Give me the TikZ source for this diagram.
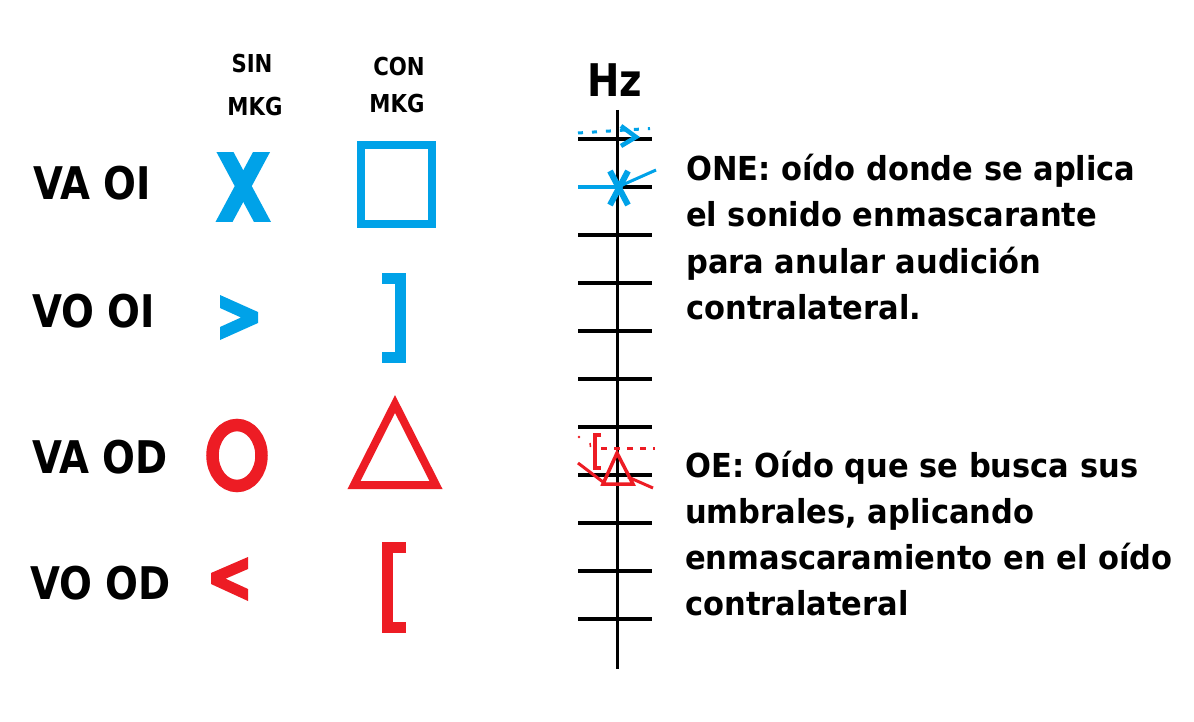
\documentclass[tikz,border=0pt]{standalone}
\usepackage{fontspec}
\newfontfamily\txtf{DejaVu Sans Bold}[FakeStretch=0.925]
\newfontfamily\labf{DejaVu Sans Bold}[FakeStretch=0.86]
\definecolor{pblue}{RGB}{0,162,232}
\definecolor{pred}{RGB}{237,28,36}
\tikzset{
  lab/.style={anchor=base west,inner sep=0pt,font=\labf\fontsize{45}{50}\selectfont},
  colhead/.style={anchor=base,inner sep=0pt,font=\labf\fontsize{24.7}{28}\selectfont},
  desc/.style={anchor=base west,inner sep=0pt,font=\txtf\fontsize{33}{40}\selectfont},
  axisline/.style={line width=3pt,black},
  tickline/.style={line width=3.2pt,black},
}
\begin{document}
\begin{tikzpicture}[x=1pt,y=-1pt]
\useasboundingbox (0,0) rectangle (1194,722);
\fill[white] (0,0) rectangle (1194,722);

% column headers
\node[colhead] (sin) at (252,73) {SIN};
\node[colhead] (mkg1) at (255,116) {MKG};
\node[colhead] (con) at (399,76) {CON};
\node[colhead] (mkg2) at (397,113) {MKG};

% row labels
\node[lab] (vaoi) at (33,200) {VA OI};
\node[lab] (vooi) at (32,327) {VO OI};
\node[lab] (vaod) at (32,473) {VA OD};
\node[lab] (vood) at (30,599) {VO OD};

% symbols: VA OI
\begin{scope}
\clip (200,153) rectangle (290,222);
\draw[pblue,line width=15pt] (221.2,145) -- (266.8,230);
\draw[pblue,line width=15pt] (265.3,145) -- (219.7,230);
\end{scope}
\draw[pblue,line width=8pt] (361,145) rectangle (432,224);

% VO OI
\fill[pblue] (220,295) -- (258,312) -- (258,323) -- (220,340) -- (220,327) -- (241,317.5) -- (220,308) -- cycle;
\draw[pblue,line width=11pt,miter limit=10] (382,278.5) -- (400,278.5) -- (400,357.5) -- (382,357.5);

% VA OD
\draw[pred,line width=12.5pt] (237,455.5) ellipse [x radius=24.5, y radius=30.5];
\draw[pred,line width=8pt,miter limit=10] (395,404) -- (436,485) -- (354,485) -- cycle;

% VO OD
\fill[pred] (248,557) -- (211,573) -- (211,584) -- (248,601) -- (248,589) -- (225.6,578.7) -- (248,569) -- cycle;
\draw[pred,line width=11pt,miter limit=10] (406,547.5) -- (387,547.5) -- (387,627.5) -- (406,627.5);

% axis
\node[anchor=base west,inner sep=0pt,font=\labf\fontsize{45}{50}\selectfont] (hz) at (587,97) {Hz};
\coordinate (atop) at (617,110);
\coordinate (abot) at (617,669);
\draw[axisline] (atop) -- (abot);
\foreach \k in {0,...,10}{
  \draw[tickline] (578,139+48*\k) -- (652,139+48*\k);
}

% blue annotations
\draw[pblue,line width=3pt,dash pattern=on 5pt off 9pt] (578,133) -- (650,128.5);
\draw[pblue,line width=4.5pt] (621,126) -- (636,137) -- (621,146);
\draw[pblue,line width=4pt] (578,187) -- (617,187);
\draw[pblue,line width=3pt] (620,186) -- (656,170);
\draw[pblue,line width=6pt] (610,171) -- (628,205);
\draw[pblue,line width=6pt] (628,171) -- (610,205);

% red annotations
\fill[pred] (579,437) circle (1.3);
\draw[pred,line width=1.5pt] (590,443) -- (590.5,447);
\draw[pred,line width=3pt,dash pattern=on 6pt off 7pt] (601,448) -- (655,448);
\draw[pred,line width=4pt] (601,434.5) -- (594.5,434.5) -- (594.5,467.5) -- (601,467.5);
\draw[pred,line width=3pt] (578,463) -- (603,482);
\draw[pred,line width=3pt] (628,477) -- (653,488);
\draw[pred,line width=3.5pt] (617,453) -- (633,484) -- (603,484) -- cycle;

% descriptions
\node[desc] (one1) at (686,181) {ONE: oído donde se aplica};
\node[desc] (one2) at (686,227) {el sonido enmascarante};
\node[desc] (one3) at (686,273) {para anular audición};
\node[desc] (one4) at (686,319) {contralateral.};
\node[desc] (oe1) at (685,477) {OE: Oído que se busca sus};
\node[desc] (oe2) at (685,523) {umbrales, aplicando};
\node[desc] (oe3) at (685,569) {enmascaramiento en el oído};
\node[desc] (oe4) at (685,615) {contralateral};
\end{tikzpicture}
\end{document}
